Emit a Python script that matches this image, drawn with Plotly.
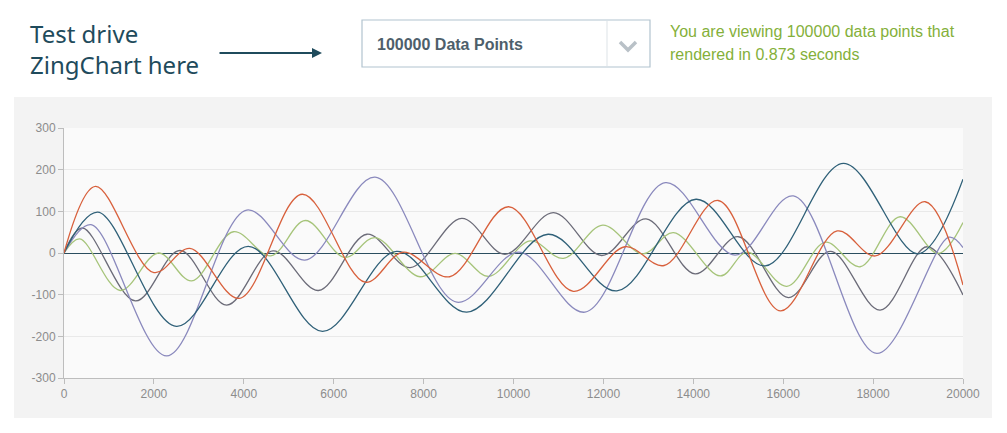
import plotly.graph_objects as go

# ---------------- data ----------------
orange_x = [0, 700, 2000, 2800, 3900, 5300, 6700, 7550, 8580, 9890, 11330, 12480, 13350, 14550, 15940, 17200, 18050, 19160, 20000]
orange_y = [0, 160, -47, 11, -109, 141, -70, 2, -57, 111, -92, 15, -30, 126, -139, 53, -7, 123, -77]

teal_x = [0, 750, 2500, 4100, 5750, 7400, 8960, 10770, 12300, 14060, 15600, 17340, 19000, 20000]
teal_y = [0, 98, -176, 16, -188, 4, -142, 45, -91, 129, -31, 215, -2, 177]

green_x = [0, 350, 1250, 2100, 2840, 3770, 4600, 5370, 6250, 6920, 7920, 8700, 9450, 10370, 11110, 11985, 12880, 13560, 14600, 15200, 16080, 16940, 17710, 18600, 19450, 20000]
green_y = [0, 34, -90, 0, -67, 51, -7, 78, -11, 37, -57, -1, -56, 29, -13, 67, -2, 49, -55, 2, -80, 26, -33, 87, -1, 73]

gray_x = [0, 410, 1590, 2580, 3620, 4650, 5660, 6740, 7700, 8848, 9810, 10887, 11963, 12950, 14040, 15000, 16117, 17050, 18156, 19200, 20000]
gray_y = [0, 60, -115, 6, -125, 5, -90, 45, -35, 83, -3, 97, -6, 82, -50, 39, -107, 4, -137, 15, -101]

purple_x = [0, 600, 2285, 4065, 5360, 6920, 8740, 10120, 11590, 13380, 14930, 16227, 18082, 19690, 20000]
purple_y = [0, 68, -247, 103, -17, 182, -118, 2, -142, 169, -5, 137, -241, 38, 13]

x_ticks = list(range(0, 20001, 2000))
y_ticks = list(range(-300, 301, 100))

header_line1 = "Test drive"
header_line2 = "ZingChart here"
dropdown_label = "100000 Data Points"
info_line1 = "You are viewing 100000 data points that"
info_line2 = "rendered in 0.873 seconds"

# ---------------- layout helpers ----------------
# the page body has an 8px margin, so the figure is drawn 8px in from the
# window's corner; all window-pixel positions below are shifted by OFF.
OFF = 8
W, H = 1007 - 2 * OFF, 433 - 2 * OFF
L, R, T, B = 64 - OFF, 963 - OFF, 128 - OFF, 378 - OFF


def px(x):
    return (x - OFF - L) / (R - L)


def py(y):
    return (B - (y - OFF)) / (B - T)


series = [
    (gray_x, gray_y, "#6b6b78"),
    (green_x, green_y, "#a6c47a"),
    (purple_x, purple_y, "#8a89bd"),
    (teal_x, teal_y, "#2f6078"),
    (orange_x, orange_y, "#d8603c"),
]

fig = go.Figure()
for xs, ys, col in series:
    fig.add_trace(go.Scatter(
        x=xs, y=ys, mode="lines",
        line=dict(color=col, width=1.3, shape="spline", smoothing=1.0),
        hoverinfo="skip", showlegend=False,
    ))

shapes = [
    # light grey chart panel
    dict(type="rect", xref="paper", yref="paper",
         x0=px(14), x1=px(992), y0=py(418), y1=py(97),
         fillcolor="#f3f3f3", line=dict(width=0), layer="below"),
    # plot area
    dict(type="rect", xref="paper", yref="paper",
         x0=0, x1=1, y0=0, y1=1,
         fillcolor="#fafafa", line=dict(width=0), layer="below"),
    # dropdown box
    dict(type="rect", xref="paper", yref="paper",
         x0=px(362), x1=px(650), y0=py(67), y1=py(20),
         fillcolor="#ffffff", line=dict(color="#b2c4cf", width=1.2)),
    # dropdown divider
    dict(type="line", xref="paper", yref="paper",
         x0=px(607), x1=px(607), y0=py(66), y1=py(21),
         line=dict(color="#dde3e7", width=1)),
    # chevron
    dict(type="path", xref="paper", yref="paper",
         path=f"M {px(620)} {py(42)} L {px(628)} {py(50)} L {px(636)} {py(42)}",
         line=dict(color="#b9c1c7", width=3.5)),
]

annotations = [
    dict(text=header_line1, xref="paper", yref="paper", x=px(28), y=py(33),
         xanchor="left", yanchor="middle", showarrow=False,
         font=dict(family="Noto Sans", size=24, color="#1f4b5c")),
    dict(text=header_line2, xref="paper", yref="paper", x=px(28), y=py(64),
         xanchor="left", yanchor="middle", showarrow=False,
         font=dict(family="Noto Sans", size=24, color="#1f4b5c")),
    dict(text="", xref="paper", yref="paper", x=px(322), y=py(53),
         ax=-104, ay=0, showarrow=True, arrowhead=2, arrowsize=1,
         arrowwidth=2, arrowcolor="#1f4b5c"),
    dict(text="<b>" + dropdown_label + "</b>", xref="paper", yref="paper",
         x=px(375), y=py(45), xanchor="left", yanchor="middle", showarrow=False,
         font=dict(family="Liberation Sans", size=16, color="#4e5f6b")),
    dict(text=info_line1, xref="paper", yref="paper",
         x=px(668), y=py(31), xanchor="left", yanchor="middle", showarrow=False,
         font=dict(family="Liberation Sans", size=16, color="#84b03a")),
    dict(text=info_line2, xref="paper", yref="paper",
         x=px(668), y=py(55), xanchor="left", yanchor="middle", showarrow=False,
         font=dict(family="Liberation Sans", size=16, color="#84b03a")),
]

fig.update_layout(
    width=W, height=H,
    margin=dict(l=L, r=W - R, t=T, b=H - B, pad=0),
    paper_bgcolor="#ffffff",
    plot_bgcolor="rgba(0,0,0,0)",
    shapes=shapes,
    annotations=annotations,
    showlegend=False,
    font=dict(family="Liberation Sans", size=12, color="#8c8c8c"),
    xaxis=dict(
        range=[0, 20000], tickvals=x_ticks, ticktext=[str(v) for v in x_ticks],
        showgrid=False, zeroline=False,
        showline=True, linecolor="#bdbdbd", linewidth=1,
        ticks="outside", ticklen=5, tickcolor="#bdbdbd",
        tickfont=dict(size=12, color="#8c8c8c"), fixedrange=True,
    ),
    yaxis=dict(
        range=[-300, 300], tickvals=y_ticks, ticktext=[str(v) for v in y_ticks],
        showgrid=True, gridcolor="#e9e9e9", gridwidth=1,
        zeroline=True, zerolinecolor="#2b4e5f", zerolinewidth=1.3,
        showline=True, linecolor="#bdbdbd", linewidth=1,
        ticks="outside", ticklen=5, tickcolor="#bdbdbd",
        tickfont=dict(size=12, color="#8c8c8c"), fixedrange=True,
    ),
)

fig.write_html("out.html", config={"displayModeBar": False})
